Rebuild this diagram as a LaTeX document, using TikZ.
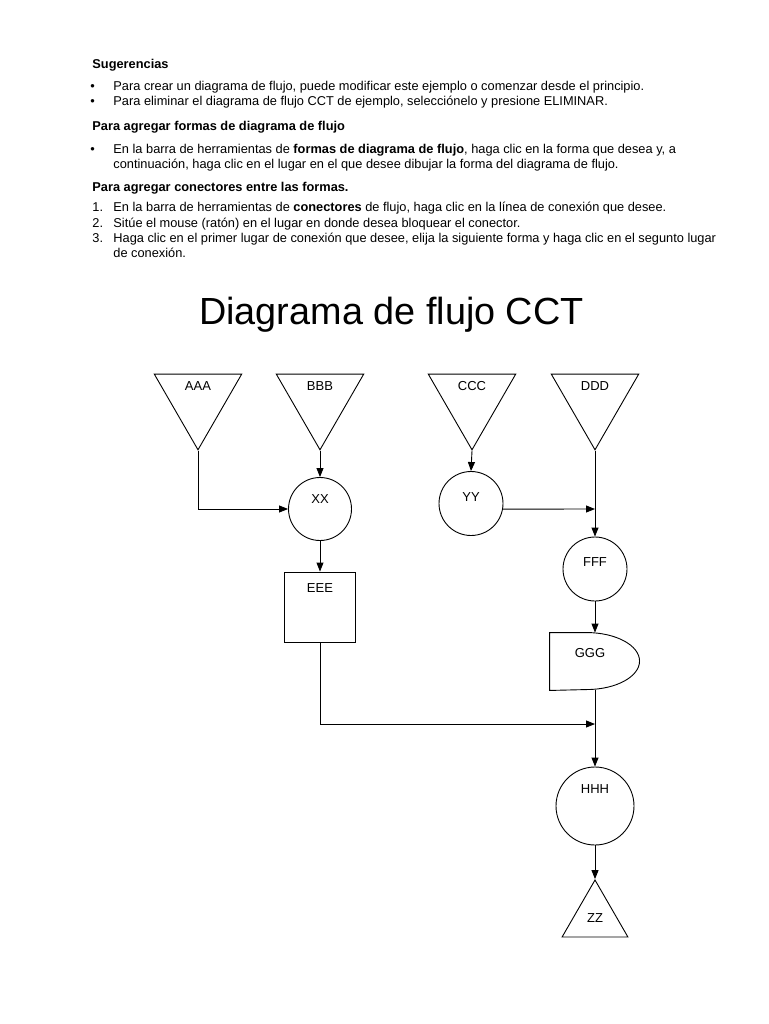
\documentclass[tikz,border=0pt]{standalone}
\usepackage{fontspec}
\setmainfont{Liberation Sans}
\usetikzlibrary{arrows.meta,shapes.geometric}

\begin{document}
\begin{tikzpicture}[
      x=1pt, y=-1pt,
      line width=0.9pt,
      txt/.style={
         anchor=base west,
         inner sep=0pt,
         font=\fontsize{12.8pt}{15pt}\selectfont},
      head/.style={txt, font=\fontsize{12.8pt}{15pt}\selectfont\bfseries},
      every label/.style={font=\fontsize{13pt}{15pt}\selectfont},
      source/.style={
         draw,
         regular polygon,
         regular polygon sides=3,
         shape border rotate=180,
         inner sep=0pt,
         minimum size=101pt},
      sink/.style={
         draw,
         regular polygon,
         regular polygon sides=3,
         inner sep=0pt,
         minimum size=76pt,
         font=\fontsize{13pt}{15pt}\selectfont},
      stage/.style={draw, circle, inner sep=0pt, minimum size=#1},
      store/.style={draw, rectangle, inner sep=0pt, minimum width=71pt, minimum height=70pt},
      myarrow/.style={-{Triangle[length=9pt,width=7pt]}}
      ]
      \path[fill=white] (0,0) rectangle (768,1024);

      % hints
      \node[head] (t0) at (92,69) {Sugerencias};
      \node[txt] (b1) at (90,91) {\textbullet};
      \node[txt] (t1) at (113,91) {Para crear un diagrama de flujo, puede modificar este ejemplo o comenzar desde el principio.};
      \node[txt] (b2) at (90,106) {\textbullet};
      \node[txt] (t2) at (113,106) {Para eliminar el diagrama de flujo CCT de ejemplo, selecciónelo y presione ELIMINAR.};
      \node[head] (t3) at (92,131) {Para agregar formas de diagrama de flujo};
      \node[txt] (b3) at (90,154) {\textbullet};
      \node[txt] (t4) at (113,154) {En la barra de herramientas de \textbf{formas de diagrama de flujo}, haga clic en la forma que desea y, a};
      \node[txt] (t5) at (113,169) {continuación, haga clic en el lugar en el que desee dibujar la forma del diagrama de flujo.};
      \node[head] (t6) at (92,192) {Para agregar conectores entre las formas.};
      \node[txt] (n1) at (92,212) {1.};
      \node[txt] (t7) at (113,212) {En la barra de herramientas de \textbf{conectores} de flujo, haga clic en la línea de conexión que desee.};
      \node[txt] (n2) at (92,227) {2.};
      \node[txt] (t8) at (113,227) {Sitúe el mouse (ratón) en el lugar en donde desea bloquear el conector.};
      \node[txt] (n3) at (92,242) {3.};
      \node[txt] (t9) at (113,242) {Haga clic en el primer lugar de conexión que desee, elija la siguiente forma y haga clic en el segunto lugar};
      \node[txt] (t10) at (113,257) {de conexión.};

      \node[anchor=base, inner sep=0pt, font=\fontsize{37.8pt}{45pt}\selectfont] (title) at (391.5,324) {Diagrama de flujo CCT};

      % flow chart
      \node[source, label={[yshift=13pt]center:AAA}] (aaa) at (198,399.3) {};
      \node[source, label={[yshift=13pt]center:BBB}] (bbb) at (320,399.3) {};
      \node[source, label={[yshift=13pt]center:CCC}] (ccc) at (472,399.3) {};
      \node[source, label={[yshift=13pt]center:DDD}] (ddd) at (595,399.3) {};
      \node[stage=63pt, label={[yshift=10pt]center:XX}] (xx) at (320,509) {};
      \node[stage=64pt, label={[yshift=6.5pt]center:YY}] (yy) at (471,503.5) {};
      \node[stage=64pt, label={[yshift=7pt]center:FFF}] (fff) at (595,569) {};
      \node[store, label={[yshift=19pt]center:EEE}] (eee) at (320,607) {};
      \node[minimum width=90pt, minimum height=57pt, inner sep=0pt,
            label={[xshift=-5pt,yshift=8.5pt]center:GGG}] (ggg) at (595,661.5) {};
      \draw (ggg.south west) -- (ggg.north west) -- ++(37,0)
            arc[start angle=90, end angle=-90, x radius=53pt, y radius=28.5pt] -- cycle;
      \node[stage=78pt, label={[yshift=17pt]center:HHH}] (hhh) at (595,806) {};
      \node[sink] (zz) at (595,918) {ZZ};

      \coordinate (meet) at (595,509);
      \coordinate (join) at (595,724);

      \foreach \i/\j in {% start/end
        bbb.corner 1/xx.north,
        xx.south/eee.north,
        ccc.corner 1/yy.north,
        yy.-10/meet,
        ddd.corner 1/fff.north,
        fff.south/ggg.north,
        ggg.south/hhh.north,
        hhh.south/zz.corner 1}
        \draw [myarrow] (\i) -- (\j);
      \draw [myarrow] (aaa.corner 1) |- (xx.west);
      \draw [myarrow] (eee.south) |- (join);
\end{tikzpicture}
\end{document}
